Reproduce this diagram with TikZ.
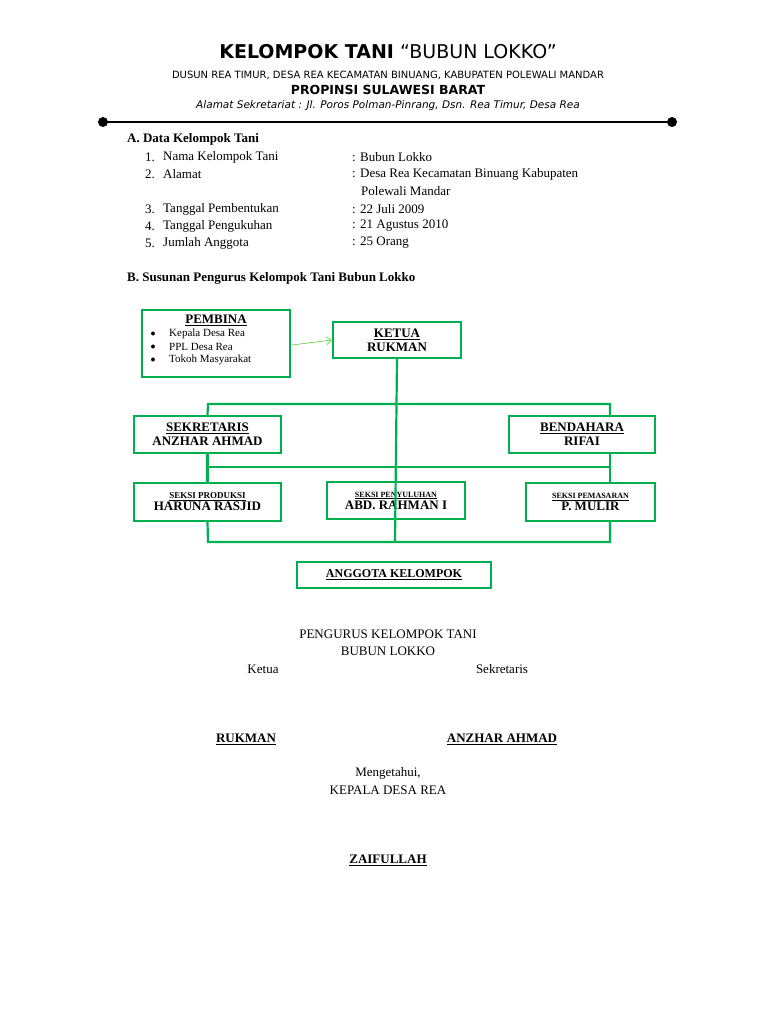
\documentclass[tikz,border=0pt]{standalone}
\usepackage{fontspec}
\setmainfont{Liberation Serif}
\newfontfamily\hdr{DejaVu Sans}
\usetikzlibrary{arrows.meta}
\definecolor{grn}{RGB}{0,176,80}
\begin{document}
\begin{tikzpicture}[x=1pt,y=-1pt,
 box/.style={draw=grn,line width=2.2pt,inner sep=0pt,align=center},
 conn/.style={draw=grn,line width=2.2pt},
 t/.style={font=\fontsize{13}{15}\selectfont,inner sep=0pt},
 tb/.style={font=\fontsize{13}{15}\selectfont\bfseries,inner sep=0pt}]
\useasboundingbox (0,0) rectangle (768,1024);
\node[inner sep=0] (title) at (388,52) {\hdr\fontsize{19}{22}\selectfont\textbf{KELOMPOK TANI} “BUBUN LOKKO”};
\node[inner sep=0] (sub) at (388,75) {\hdr\fontsize{10}{12}\selectfont DUSUN REA TIMUR, DESA REA KECAMATAN BINUANG, KABUPATEN POLEWALI MANDAR};
\node[inner sep=0] (prop) at (388,90) {\hdr\fontsize{12.5}{14}\selectfont\bfseries PROPINSI SULAWESI BARAT};
\node[inner sep=0] (alm) at (388,106) {\hdr\fontsize{10.5}{12}\selectfont\itshape Alamat Sekretariat : Jl. Poros Polman-Pinrang, Dsn. Rea Timur, Desa Rea};
\coordinate (l1) at (103,122); \coordinate (l2) at (672,122);
\draw[line width=2.5pt] (l1) -- (l2);
\fill (l1) circle (5); \fill (l2) circle (5);
\node[tb,anchor=west] (A) at (127,139) {A. Data Kelompok Tani};
\foreach \n/\a/\b/\y in {1./Nama Kelompok Tani/: Bubun Lokko/157, 2./Alamat/: Desa Rea Kecamatan Binuang Kabupaten/174, 3./Tanggal Pembentukan/: 22 Juli 2009/209, 4./Tanggal Pengukuhan/: 21 Agustus 2010/226, 5./Jumlah Anggota/: 25 Orang/243}{
 \node[t,anchor=west] at (145,\y) {\n};
 \node[t,anchor=west] at (163,\y) {\a};
 \node[t,anchor=west] at (352,\y) {\b};}
\node[t,anchor=west] (pm) at (361,191) {Polewali Mandar};
\node[tb,anchor=west] (B) at (127,278) {B. Susunan Pengurus Kelompok Tani Bubun Lokko};
% boxes
\draw[draw=grn,line width=2.2pt] (142,310) rectangle (290,377);
\node[tb] (pemb) at (216,320) {\underline{PEMBINA}};
\foreach \s/\y in {Kepala Desa Rea/334, PPL Desa Rea/347, Tokoh Masyarakat/360}{
 \node[inner sep=0,font=\fontsize{10}{12}\selectfont] at (153,\y) {$\bullet$};
 \node[inner sep=0,anchor=west,font=\fontsize{11}{12}\selectfont] at (169,\y) {\s};}
\coordinate (pe) at (292,345);
\node[box,minimum width=128pt,minimum height=36pt,font=\fontsize{13}{14}\selectfont\bfseries] (ketua) at (397,340) {\underline{KETUA}\\RUKMAN};
\draw[-{Straight Barb[length=5pt,width=8pt]},draw=grn!60!lime,line width=0.6pt] (pe) -- (ketua.west);
\node[box,minimum width=147pt,minimum height=37pt,font=\fontsize{13}{14}\selectfont\bfseries] (sek) at (207.5,434.5) {\underline{SEKRETARIS}\\ANZHAR AHMAD};
\node[box,minimum width=146pt,minimum height=37pt,font=\fontsize{13}{14}\selectfont\bfseries] (ben) at (582,434.5) {\underline{BENDAHARA}\\RIFAI};
\node[box,minimum width=147pt,minimum height=38pt,font=\bfseries] (sp) at (207.5,502) {{\fontsize{9}{11}\selectfont\underline{SEKSI PRODUKSI}}\\{\fontsize{13}{14}\selectfont HARUNA RASJID}};
\node[box,minimum width=138pt,minimum height=37pt,font=\bfseries] (sy) at (396,500.5) {{\fontsize{8}{10}\selectfont\underline{SEKSI PENYULUHAN}}\\{\fontsize{13}{14}\selectfont ABD. RAHMAN I}};
\node[box,minimum width=129pt,minimum height=38pt,font=\bfseries] (sm) at (590.5,502) {{\fontsize{8}{10}\selectfont\underline{SEKSI PEMASARAN}}\\{\fontsize{13}{14}\selectfont P. MULIR}};
\node[box,minimum width=194pt,minimum height=26pt,font=\fontsize{12}{14}\selectfont\bfseries] (ang) at (394,575) {\underline{ANGGOTA KELOMPOK}};
% connectors
\coordinate (a1) at (208,404); \coordinate (a2) at (610,404);
\coordinate (b1) at (208,467); \coordinate (b2) at (610,467);
\coordinate (c1) at (208,542); \coordinate (c2) at (610,542); \coordinate (cm) at (395,542);
\draw[conn] (ketua.south) -- (cm);
\draw[conn] (sek.north) -- (a1) -- (a2) -- (a2|-ben.north);
\draw[conn] (sek.south) -- (sp.north);
\draw[conn] (ben.south -| b2) -- (b2 |- sm.north);
\draw[conn] (b1) -- (b2);
\draw[conn] (sp.south) -- (c1) -- (c2) -- (c2 |- sm.south);
% signatures
\node[t] (p1) at (388,634) {PENGURUS KELOMPOK TANI};
\node[t] (p2) at (388,651) {BUBUN LOKKO};
\node[t] (k) at (263,669) {Ketua};
\node[t] (s) at (502,669) {Sekretaris};
\node[tb] (r) at (246,739) {\underline{RUKMAN}};
\node[tb] (aa) at (502,739) {\underline{ANZHAR AHMAD}};
\node[t] (m) at (388,773) {Mengetahui,};
\node[t] (kd) at (388,790) {KEPALA DESA REA};
\node[tb] (z) at (388,860) {\underline{ZAIFULLAH}};
\end{tikzpicture}
\end{document}
